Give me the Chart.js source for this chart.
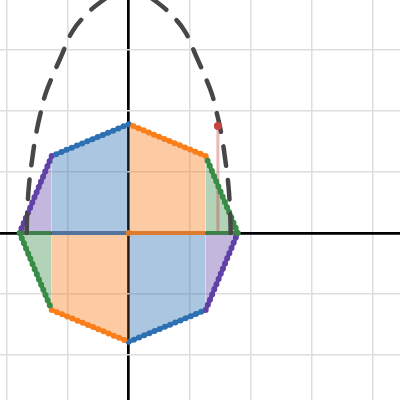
<!DOCTYPE html>
<html>
<head>
  <meta charset="UTF-8" />
  <script src="https://cdn.jsdelivr.net/npm/chart.js"></script>
  <style>
    html, body { margin: 0; padding: 0; background: #fff; }
    #wrap { width: 400px; height: 400px; }
  </style>
</head>
<body>
  <div id="wrap"><canvas id="graph" width="400" height="400"></canvas></div>
  <script>
    // view window (graph units, one grid square = 1)
    const xMin = -2.106, xMax = 4.44;
    const yMin = -2.733, yMax = 3.813;
    const xGrid = [-2, -1, 0, 1, 2, 3, 4];
    const yGrid = [-2, -1, 0, 1, 2, 3];

    // octagon vertices, counter-clockwise from the right
    const octX = [1.785, 1.26, 0, -1.26, -1.785, -1.26, 0, 1.26];
    const octY = [0, 1.26, 1.78, 1.26, 0, -1.26, -1.78, -1.26];
    const edgeColors = ['#388c46', '#fa7e19', '#2d70b3', '#6042a6'];
    const edgeFills = ['rgba(56,140,70,0.38)', 'rgba(250,126,25,0.4)', 'rgba(45,112,179,0.4)', 'rgba(96,66,166,0.38)'];

    // segments drawn along y = 0
    const baseX = [-1.785, -1.26, 0, 1.26, 1.785];
    const baseColors = ['#3e7f4b', '#52739b', '#de7b2e', '#3e7f4b'];

    // dashed curve
    const curveX = [-1.67, -1.66, -1.63, -1.58, -1.52, -1.44, -1.36, -1.25, -1.11, -0.92, -0.67, -0.43, -0.2, 0,
                    0.2, 0.43, 0.67, 0.92, 1.11, 1.25, 1.36, 1.44, 1.52, 1.58, 1.63, 1.66, 1.67];
    const curveY = [0, 0.35, 0.8, 1.2, 1.6, 1.97, 2.28, 2.56, 2.88, 3.3, 3.6, 3.8, 3.95, 4.0,
                    3.95, 3.8, 3.6, 3.3, 2.88, 2.56, 2.28, 1.97, 1.6, 1.2, 0.8, 0.35, 0];

    // red point and its drop line
    const markX = 1.46, markY = 1.75;

    const datasets = [];

    datasets.push({
      data: [{ x: markX, y: markY }],
      showLine: false, pointRadius: 4, pointBackgroundColor: '#c74440', pointBorderWidth: 0, order: 1
    });
    datasets.push({
      data: [{ x: markX, y: markY }, { x: markX, y: 0 }],
      showLine: true, borderColor: 'rgba(199,68,64,0.38)', borderWidth: 3, pointRadius: 0, order: 9
    });

    datasets.push({
      data: curveX.map((x, i) => ({ x, y: curveY[i] })),
      showLine: true, borderColor: '#474747', borderWidth: 4.5, borderDash: [19.5, 14.5],
      borderCapStyle: 'round', tension: 0.4, pointRadius: 0, order: 2
    });

    for (let i = 0; i < baseX.length - 1; i++) {
      datasets.push({
        data: [{ x: baseX[i], y: 0 }, { x: baseX[i + 1], y: 0 }],
        showLine: true, borderColor: baseColors[i], borderWidth: 4, pointRadius: 0, order: 4
      });
    }
    datasets.push({
      data: [{ x: 0, y: 0 }],
      showLine: false, pointRadius: 3, pointBackgroundColor: '#e07a2c', pointBorderWidth: 0, order: 3
    });

    for (let i = 0; i < octX.length; i++) {
      const j = (i + 1) % octX.length;
      const pts = [{ x: octX[i], y: octY[i] }, { x: octX[j], y: octY[j] }];
      const c = edgeColors[i % 4];
      // filled region down to the x axis, with the solid edge
      datasets.push({
        data: pts, showLine: true, fill: 'origin', backgroundColor: edgeFills[i % 4],
        borderColor: c, borderWidth: 4, pointRadius: 0, order: 8
      });
      // dotted overlay on the edge
      datasets.push({
        data: pts, showLine: true, borderColor: c, borderWidth: 6, borderDash: [0, 5.6],
        borderCapStyle: 'round', pointRadius: 0, order: 6
      });
    }

    function gridColor(ctx) {
      return ctx.tick.value === 0 ? '#000' : '#dedede';
    }
    function gridWidth(ctx) {
      return ctx.tick.value === 0 ? 2.7 : 1.5;
    }
    function setTicks(values) {
      return scale => { scale.ticks = values.map(v => ({ value: v })); };
    }

    new Chart(document.getElementById('graph'), {
      type: 'scatter',
      data: { datasets },
      options: {
        responsive: false,
        animation: false,
        layout: { padding: 0, autoPadding: false },
        plugins: {
          legend: { display: false },
          tooltip: { enabled: false },
          filler: { drawTime: 'beforeDatasetsDraw' }
        },
        scales: {
          x: {
            type: 'linear', min: xMin, max: xMax,
            afterBuildTicks: setTicks(xGrid),
            ticks: { display: false, padding: 0 },
            grid: { color: gridColor, lineWidth: gridWidth, drawTicks: false, tickLength: 0 },
            border: { display: false }
          },
          y: {
            type: 'linear', min: yMin, max: yMax,
            afterBuildTicks: setTicks(yGrid),
            ticks: { display: false, padding: 0 },
            grid: { color: gridColor, lineWidth: gridWidth, drawTicks: false, tickLength: 0 },
            border: { display: false }
          }
        }
      }
    });
  </script>
</body>
</html>
